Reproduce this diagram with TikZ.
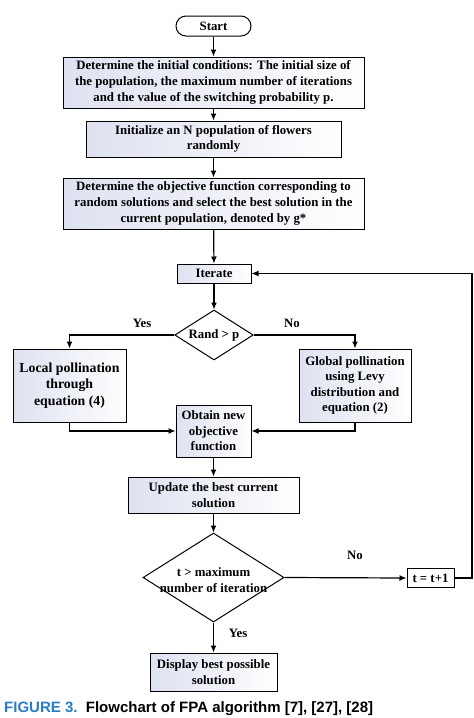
\documentclass[tikz,border=0pt]{standalone}
\usepackage{fontspec}
\setmainfont{Liberation Serif}
\newfontfamily\capfont{Liberation Sans}
\usetikzlibrary{arrows.meta,shapes.geometric}
\definecolor{boxblue}{RGB}{222,225,240}
\definecolor{capblue}{RGB}{40,125,195}
\begin{document}
\begin{tikzpicture}[x=1pt,y=-1pt,
  every node/.style={font=\fontsize{12.8}{15.6}\selectfont\bfseries},
  box/.style={draw, line width=1pt, left color=boxblue, right color=white, align=center, inner sep=1pt},
  plainbox/.style={draw, line width=1pt, fill=white, align=center, inner sep=1pt},
  decision/.style={draw, diamond, line width=1pt, fill=white, inner sep=0pt, aspect=2.4},
  conn/.style={line width=1.2pt, -{Latex[length=7pt,width=6pt]}},
  lbl/.style={inner sep=0pt}
]
\useasboundingbox (0,0) rectangle (474,718);

\node[plainbox, rounded corners=10pt, minimum width=75pt, minimum height=20pt] (start) at (213.5,26) {Start};
\node[box, minimum width=301pt, minimum height=51pt] (init) at (213.5,82.5)
  {Determine the initial conditions: The initial size of\\the population, the maximum number of iterations\\and the value of the switching probability p.};
\node[box, minimum width=255pt, minimum height=36pt] (pop) at (213.5,139)
  {Initialize an N population of flowers\\randomly};
\node[box, minimum width=301pt, minimum height=51pt] (obj) at (213.5,203.5)
  {Determine the objective function corresponding to\\random solutions and select the best solution in the\\current population, denoted by g*};
\node[box, minimum width=74pt, minimum height=19pt] (iter) at (214,273.5) {Iterate};
\node[decision, minimum width=74pt, minimum height=50pt] (rand) at (214,335) {Rand > p};
\node[box, minimum width=113pt, minimum height=73pt, font=\fontsize{13.8}{16.5}\selectfont\bfseries] (local) at (69.5,385.5)
  {Local pollination\\through\\equation (4)};
\node[box, minimum width=112pt, minimum height=73pt] (global) at (355,385.5)
  {Global pollination\\using Levy\\distribution and\\equation (2)};
\node[box, minimum width=75pt, minimum height=52pt] (new) at (213.5,431)
  {Obtain new\\objective\\function};
\node[box, minimum width=171pt, minimum height=36pt] (upd) at (213.5,495)
  {Update the best current\\solution};
\node[decision, minimum width=141pt, minimum height=89pt] (maxit) at (213.5,577.5) {};
\node[lbl, align=center] (maxittext) at (213.5,580) {t > maximum\\number of iteration};
\node[plainbox, minimum width=47pt, minimum height=19pt] (tinc) at (430.5,578) {t = t+1};
\node[box, minimum width=127pt, minimum height=38pt] (disp) at (213.5,672)
  {Display best possible\\solution};

\node[lbl] (yes1) at (142,323) {Yes};
\node[lbl] (no1) at (292,323) {No};
\node[lbl] (no2) at (355,555) {No};
\node[lbl] (yes2) at (238,633) {Yes};

\coordinate (loopa) at (472,578);
\coordinate (loopb) at (472,273.5);

\draw[conn] (start) -- (init);
\draw[conn] (init) -- (pop);
\draw[conn] (pop) -- (obj);
\draw[conn] (obj) -- (iter);
\draw[conn] (iter) -- (rand);
\draw[conn] (rand.west) -| (local.north);
\draw[conn] (rand.east) -| (global.north);
\draw[conn] (local.south) |- (new.west);
\draw[conn] (global.south) |- (new.east);
\draw[conn] (new) -- (upd);
\draw[conn] (upd) -- (maxit);
\draw[conn] (maxit.east) -- (tinc.west);
\draw[conn] (maxit.south) -- (disp.north);
\draw[conn] (tinc.east) -- (loopa) -- (loopb) -- (iter.east);

\node[anchor=base west, inner sep=0pt, font=\capfont\fontsize{15}{18}\selectfont\bfseries] (cap) at (4,712)
  {\textcolor{capblue}{FIGURE 3.}\ \ Flowchart of FPA algorithm [7], [27], [28]};
\end{tikzpicture}
\end{document}
